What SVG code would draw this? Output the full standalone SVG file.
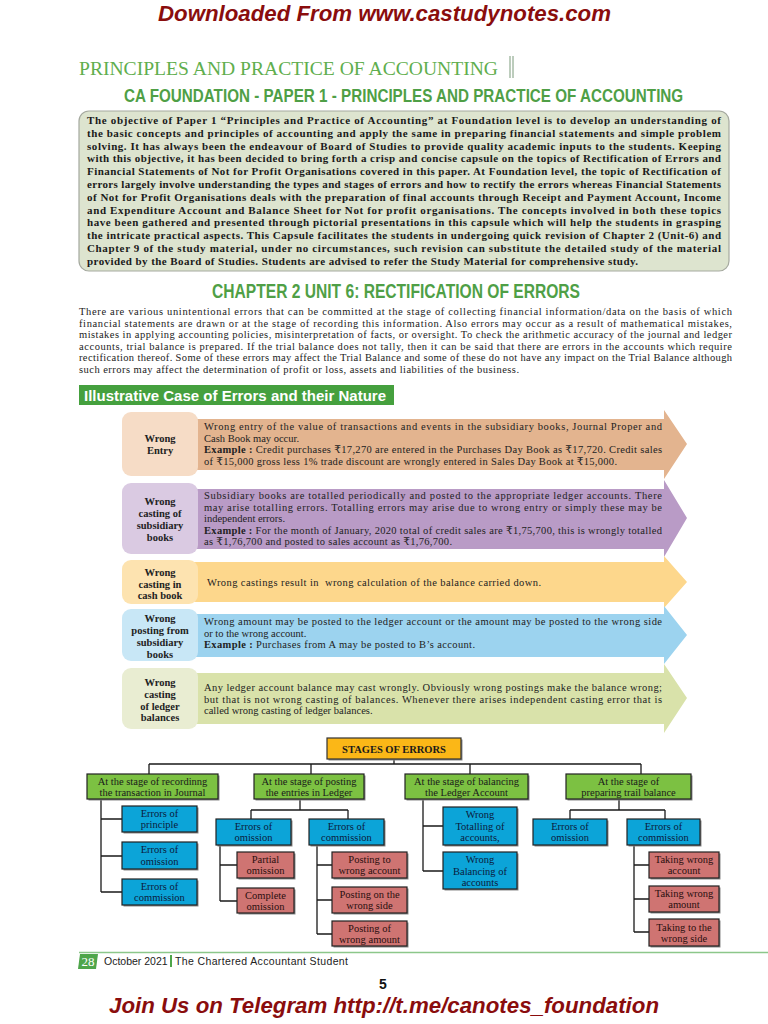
<svg xmlns="http://www.w3.org/2000/svg" width="768" height="1024" viewBox="0 0 768 1024">
<style>
.wm{font-family:"Liberation Sans",Arial,sans-serif;font-weight:bold;font-style:italic;font-size:22px;fill:#8a0d0d}
.hd{font-family:"Liberation Sans Narrow","Liberation Sans",Arial,sans-serif;font-weight:bold;fill:#4f9f46}
.intro{font-family:"Liberation Serif","DejaVu Serif",serif;font-weight:bold;font-size:11px;fill:#1a1a1a}
.para{font-family:"Liberation Serif","DejaVu Serif",serif;font-size:10.5px;fill:#222}
.rt{font-family:"Liberation Serif","DejaVu Serif",serif;font-size:10.5px;fill:#222}
.lb{font-family:"Liberation Serif","DejaVu Serif",serif;font-weight:bold;font-size:10.5px;fill:#222;text-anchor:middle}
.b{font-weight:bold}
.tt{font-family:"Liberation Serif","DejaVu Serif",serif;font-size:10.5px;text-anchor:middle}
.g{fill:#7cc142;stroke:#222;stroke-width:1.2}
.bl{fill:#0ca4d8;stroke:#222;stroke-width:1.2}
.rd{fill:#cf7472;stroke:#222;stroke-width:1.2}
.sh{fill:#8a8a8a}
.gt{fill:#1a1a1a}
.bt{fill:#0b1a3c}
.rdt{fill:#2a0f0f}
.cn{fill:none;stroke:#1a1a1a;stroke-width:1.3}
</style>

<!-- header -->
<text class="wm" x="158" y="21" textLength="453" lengthAdjust="spacingAndGlyphs">Downloaded From www.castudynotes.com</text>
<text x="79" y="75" font-family="Liberation Serif, serif" font-size="19" fill="#5fae4e" textLength="419" lengthAdjust="spacingAndGlyphs">PRINCIPLES AND PRACTICE OF ACCOUNTING</text>
<line x1="510" y1="56" x2="510" y2="78" stroke="#7a9a7a" stroke-width="1"/>
<line x1="513" y1="56" x2="513" y2="78" stroke="#7a9a7a" stroke-width="1"/>
<text class="hd" transform="translate(124,102) scale(0.8,1)" x="0" y="0" font-size="18.5" textLength="699" lengthAdjust="spacingAndGlyphs">CA FOUNDATION - PAPER 1 - PRINCIPLES AND PRACTICE OF ACCOUNTING</text>

<!-- intro box -->
<rect x="79" y="111" width="650" height="160" rx="10" fill="#dde4cf" stroke="#a5a99f" stroke-width="1.2"/>
<g class="intro">
<text x="87" y="124" textLength="634">The objective of Paper 1 “Principles and Practice of Accounting” at Foundation level is to develop an understanding of</text>
<text x="87" y="136.8" textLength="634">the basic concepts and principles of accounting and apply the same in preparing financial statements and simple problem</text>
<text x="87" y="149.6" textLength="634">solving. It has always been the endeavour of Board of Studies to provide quality academic inputs to the students. Keeping</text>
<text x="87" y="162.4" textLength="634">with this objective, it has been decided to bring forth a crisp and concise capsule on the topics of Rectification of Errors and</text>
<text x="87" y="175.2" textLength="634">Financial Statements of Not for Profit Organisations covered in this paper. At Foundation level, the topic of Rectification of</text>
<text x="87" y="188" textLength="634">errors largely involve understanding the types and stages of errors and how to rectify the errors whereas Financial Statements</text>
<text x="87" y="200.8" textLength="634">of Not for Profit Organisations deals with the preparation of final accounts through Receipt and Payment Account, Income</text>
<text x="87" y="213.6" textLength="634">and Expenditure Account and Balance Sheet for Not for profit organisations. The concepts involved in both these topics</text>
<text x="87" y="226.4" textLength="634">have been gathered and presented through pictorial presentations in this capsule which will help the students in grasping</text>
<text x="87" y="239.2" textLength="634">the intricate practical aspects. This Capsule facilitates the students in undergoing quick revision of Chapter 2 (Unit-6) and</text>
<text x="87" y="252" textLength="634">Chapter 9 of the study material, under no circumstances, such revision can substitute the detailed study of the material</text>
<text x="87" y="264.8" textLength="551">provided by the Board of Studies. Students are advised to refer the Study Material for comprehensive study.</text>
</g>

<text class="hd" x="212" y="298" font-size="20" textLength="368" lengthAdjust="spacingAndGlyphs">CHAPTER 2 UNIT 6: RECTIFICATION OF ERRORS</text>

<g class="para">
<text x="79" y="315" textLength="653">There are various unintentional errors that can be committed at the stage of collecting financial information/data on the basis of which</text>
<text x="79" y="326.6" textLength="653">financial statements are drawn or at the stage of recording this information. Also errors may occur as a result of mathematical mistakes,</text>
<text x="79" y="338.2" textLength="653">mistakes in applying accounting policies, misinterpretation of facts, or oversight. To check the arithmetic accuracy of the journal and ledger</text>
<text x="79" y="349.8" textLength="653">accounts, trial balance is prepared. If the trial balance does not tally, then it can be said that there are errors in the accounts which require</text>
<text x="79" y="361.4" textLength="653">rectification thereof. Some of these errors may affect the Trial Balance and some of these do not have any impact on the Trial Balance although</text>
<text x="79" y="373" textLength="440">such errors may affect the determination of profit or loss, assets and liabilities of the business.</text>
</g>

<rect x="79" y="385" width="315" height="20" fill="#45a03e"/>
<text x="84" y="400.5" font-family="Liberation Sans Narrow, Liberation Sans, sans-serif" font-weight="bold" font-size="15.5" fill="#ffffff" textLength="302" lengthAdjust="spacingAndGlyphs">Illustrative Case of Errors and their Nature</text>

<!-- error rows -->
<g id="row-wrong-entry">
<polygon points="192,419 664,419 664,410 687,444 664,479 664,470 192,470" fill="#e3b48f"/>
<rect x="122" y="412" width="76" height="64" rx="9" fill="#f6dcc6"/>
<text class="lb" x="160" y="442">Wrong</text>
<text class="lb" x="160" y="454">Entry</text>
<text class="rt" x="204" y="430" textLength="458">Wrong entry of the value of transactions and events in the subsidiary books, Journal Proper and</text>
<text class="rt" x="204" y="441.5">Cash Book may occur.</text>
<text class="rt" x="204" y="453" textLength="458"><tspan class="b">Example :</tspan> Credit purchases ₹17,270 are entered in the Purchases Day Book as ₹17,720. Credit sales</text>
<text class="rt" x="204" y="464.5" textLength="413">of ₹15,000 gross less 1% trade discount are wrongly entered in Sales Day Book at ₹15,000.</text>
</g>

<g id="row-wrong-casting-subsidiary">
<polygon points="192,489 664,489 664,480 687,518 664,557 664,549 192,549" fill="#b99bc6"/>
<rect x="122" y="483" width="76" height="71" rx="9" fill="#dacae2"/>
<text class="lb" x="160" y="505">Wrong</text>
<text class="lb" x="160" y="517">casting of</text>
<text class="lb" x="160" y="529">subsidiary</text>
<text class="lb" x="160" y="541">books</text>
<text class="rt" x="204" y="499" textLength="458">Subsidiary books are totalled periodically and posted to the appropriate ledger accounts. There</text>
<text class="rt" x="204" y="510.5" textLength="458">may arise totalling errors. Totalling errors may arise due to wrong entry or simply these may be</text>
<text class="rt" x="204" y="522">independent errors.</text>
<text class="rt" x="204" y="533.5" textLength="458"><tspan class="b">Example :</tspan> For the month of January, 2020 total of credit sales are ₹1,75,700, this is wrongly totalled</text>
<text class="rt" x="204" y="545" textLength="248">as ₹1,76,700 and posted to sales account as ₹1,76,700.</text>
</g>

<g id="row-wrong-casting-cash">
<polygon points="192,562 664,562 664,556 687,582 664,608 664,602 192,602" fill="#fdd78c"/>
<rect x="122" y="560" width="76" height="44" rx="9" fill="#fde3b0"/>
<text class="lb" x="160" y="576">Wrong</text>
<text class="lb" x="160" y="588">casting in</text>
<text class="lb" x="160" y="599">cash book</text>
<text class="rt" x="207" y="586" textLength="334" xml:space="preserve">Wrong castings result in  wrong calculation of the balance carried down.</text>
</g>

<g id="row-wrong-posting">
<polygon points="192,614 664,614 664,606 687,635 664,664 664,657 192,657" fill="#9cd3ef"/>
<rect x="122" y="609" width="76" height="52" rx="9" fill="#c8e7f6"/>
<text class="lb" x="160" y="622">Wrong</text>
<text class="lb" x="160" y="634">posting from</text>
<text class="lb" x="160" y="646">subsidiary</text>
<text class="lb" x="160" y="657.5">books</text>
<text class="rt" x="204" y="625" textLength="458">Wrong amount may be posted to the ledger account or the amount may be posted to the wrong side</text>
<text class="rt" x="204" y="636.5">or to the wrong account.</text>
<text class="rt" x="204" y="648" textLength="271"><tspan class="b">Example :</tspan> Purchases from A may be posted to B’s account.</text>
</g>

<g id="row-wrong-casting-ledger">
<polygon points="192,673 664,673 664,664 687,698 664,733 664,724 192,724" fill="#d9e2aa"/>
<rect x="122" y="668" width="76" height="61" rx="9" fill="#e9edd2"/>
<text class="lb" x="160" y="686">Wrong</text>
<text class="lb" x="160" y="698">casting</text>
<text class="lb" x="160" y="709.5">of ledger</text>
<text class="lb" x="160" y="721">balances</text>
<text class="rt" x="204" y="691" textLength="458">Any ledger account balance may cast wrongly. Obviously wrong postings make the balance wrong;</text>
<text class="rt" x="204" y="702.5" textLength="458">but that is not wrong casting of balances. Whenever there arises independent casting error that is</text>
<text class="rt" x="204" y="714">called wrong casting of ledger balances.</text>
</g>

<!-- connectors -->
<g id="connectors" class="cn">
<path d="M394 759V764M149 764H641M149 764V774M311 764V774M470 764V774M641 764V774"/>
<path d="M101 799V892M101 819H122M101 856H122M101 892H122"/>
<path d="M300 799V810M251 810H348M251 810V819M348 810V819"/>
<path d="M220 845V901M220 865H237M220 901H237"/>
<path d="M317 845V934M317 865H332M317 900H332M317 934H332"/>
<path d="M423 799V871M423 826H443M423 871H443"/>
<path d="M619 799V810M570 810H665M570 810V819M665 810V819"/>
<path d="M634 845V932M634 865H649M634 899H649M634 932H649"/>
</g>

<!-- tree nodes -->
<g id="n-stages">
<rect class="sh" x="328.5" y="739.5" width="134" height="21"/>
<rect x="327" y="738" width="134" height="21" fill="#fbb717" stroke="#333" stroke-width="1.2"/>
<text class="tt b gt" x="394" y="752.5" font-size="10">STAGES OF ERRORS</text>
</g>

<g id="n-journal">
<rect class="sh" x="88.5" y="775.5" width="131" height="25"/>
<rect class="g" x="87" y="774" width="131" height="25"/>
<text class="tt gt" x="152.5" y="785">At the stage of recordinng</text>
<text class="tt gt" x="152.5" y="796">the transaction in Journal</text>
</g>
<g id="n-ledger">
<rect class="sh" x="255.5" y="775.5" width="110" height="25"/>
<rect class="g" x="254" y="774" width="110" height="25"/>
<text class="tt gt" x="309" y="785">At the stage of posting</text>
<text class="tt gt" x="309" y="796">the entries in Ledger</text>
</g>
<g id="n-balancing">
<rect class="sh" x="406.5" y="775.5" width="123" height="25"/>
<rect class="g" x="405" y="774" width="123" height="25"/>
<text class="tt gt" x="466.5" y="785">At the stage of balancing</text>
<text class="tt gt" x="466.5" y="796">the Ledger Account</text>
</g>
<g id="n-trial">
<rect class="sh" x="567.5" y="775.5" width="125" height="25"/>
<rect class="g" x="566" y="774" width="125" height="25"/>
<text class="tt gt" x="628.5" y="785">At the stage of</text>
<text class="tt gt" x="628.5" y="796">preparing trail balance</text>
</g>

<g id="n-j-principle">
<rect class="sh" x="123.5" y="807.5" width="75" height="26"/>
<rect class="bl" x="122" y="806" width="75" height="26"/>
<text class="tt bt" x="159.5" y="817">Errors of</text>
<text class="tt bt" x="159.5" y="828">principle</text>
</g>
<g id="n-j-omission">
<rect class="sh" x="123.5" y="843.5" width="75" height="27"/>
<rect class="bl" x="122" y="842" width="75" height="27"/>
<text class="tt bt" x="159.5" y="853">Errors of</text>
<text class="tt bt" x="159.5" y="864.5">omission</text>
</g>
<g id="n-j-commission">
<rect class="sh" x="123.5" y="880.5" width="75" height="26"/>
<rect class="bl" x="122" y="879" width="75" height="26"/>
<text class="tt bt" x="159.5" y="890">Errors of</text>
<text class="tt bt" x="159.5" y="901">commission</text>
</g>

<g id="n-l-omission">
<rect class="sh" x="217.5" y="820.5" width="75" height="26"/>
<rect class="bl" x="216" y="819" width="75" height="26"/>
<text class="tt bt" x="253.5" y="830">Errors of</text>
<text class="tt bt" x="253.5" y="841">omission</text>
</g>
<g id="n-l-commission">
<rect class="sh" x="310.5" y="820.5" width="75" height="26"/>
<rect class="bl" x="309" y="819" width="75" height="26"/>
<text class="tt bt" x="346.5" y="830">Errors of</text>
<text class="tt bt" x="346.5" y="841">commission</text>
</g>

<g id="n-partial">
<rect class="sh" x="238.5" y="853.5" width="57" height="26"/>
<rect class="rd" x="237" y="852" width="57" height="26"/>
<text class="tt rdt" x="265.5" y="863">Partial</text>
<text class="tt rdt" x="265.5" y="874">omission</text>
</g>
<g id="n-complete">
<rect class="sh" x="238.5" y="889.5" width="57" height="25"/>
<rect class="rd" x="237" y="888" width="57" height="25"/>
<text class="tt rdt" x="265.5" y="899">Complete</text>
<text class="tt rdt" x="265.5" y="910">omission</text>
</g>

<g id="n-post-account">
<rect class="sh" x="333.5" y="853.5" width="75" height="26"/>
<rect class="rd" x="332" y="852" width="75" height="26"/>
<text class="tt rdt" x="369.5" y="863">Posting to</text>
<text class="tt rdt" x="369.5" y="874">wrong account</text>
</g>
<g id="n-post-side">
<rect class="sh" x="333.5" y="888.5" width="75" height="26"/>
<rect class="rd" x="332" y="887" width="75" height="26"/>
<text class="tt rdt" x="369.5" y="898">Posting on the</text>
<text class="tt rdt" x="369.5" y="909">wrong side</text>
</g>
<g id="n-post-amount">
<rect class="sh" x="333.5" y="922.5" width="75" height="25"/>
<rect class="rd" x="332" y="921" width="75" height="25"/>
<text class="tt rdt" x="369.5" y="932">Posting of</text>
<text class="tt rdt" x="369.5" y="943">wrong amount</text>
</g>

<g id="n-totalling">
<rect class="sh" x="444.5" y="808.5" width="74" height="38"/>
<rect class="bl" x="443" y="807" width="74" height="38"/>
<text class="tt bt" x="480" y="818">Wrong</text>
<text class="tt bt" x="480" y="829.5">Totalling of</text>
<text class="tt bt" x="480" y="841">accounts,</text>
</g>
<g id="n-balancing-acc">
<rect class="sh" x="444.5" y="853.5" width="74" height="37"/>
<rect class="bl" x="443" y="852" width="74" height="37"/>
<text class="tt bt" x="480" y="863">Wrong</text>
<text class="tt bt" x="480" y="874.5">Balancing of</text>
<text class="tt bt" x="480" y="886">accounts</text>
</g>

<g id="n-t-omission">
<rect class="sh" x="534.5" y="820.5" width="74" height="26"/>
<rect class="bl" x="533" y="819" width="74" height="26"/>
<text class="tt bt" x="570" y="830">Errors of</text>
<text class="tt bt" x="570" y="841">omission</text>
</g>
<g id="n-t-commission">
<rect class="sh" x="628.5" y="820.5" width="73" height="26"/>
<rect class="bl" x="627" y="819" width="73" height="26"/>
<text class="tt bt" x="663.5" y="830">Errors of</text>
<text class="tt bt" x="663.5" y="841">commission</text>
</g>

<g id="n-take-account">
<rect class="sh" x="650.5" y="853.5" width="70" height="26"/>
<rect class="rd" x="649" y="852" width="70" height="26"/>
<text class="tt rdt" x="684" y="863">Taking wrong</text>
<text class="tt rdt" x="684" y="874">account</text>
</g>
<g id="n-take-amount">
<rect class="sh" x="650.5" y="887.5" width="70" height="26"/>
<rect class="rd" x="649" y="886" width="70" height="26"/>
<text class="tt rdt" x="684" y="897">Taking wrong</text>
<text class="tt rdt" x="684" y="908">amount</text>
</g>
<g id="n-take-side">
<rect class="sh" x="650.5" y="920.5" width="70" height="27"/>
<rect class="rd" x="649" y="919" width="70" height="27"/>
<text class="tt rdt" x="684" y="930.5">Taking to the</text>
<text class="tt rdt" x="684" y="942">wrong side</text>
</g>

<!-- footer -->
<line x1="79" y1="952.5" x2="768" y2="952.5" stroke="#8cc78a" stroke-width="1.5"/>
<polygon points="80,954 98,954 96,969 78,969" fill="#4ea54a"/>
<text x="88" y="966" font-family="Liberation Serif, serif" font-size="13" fill="#ffffff" text-anchor="middle">28</text>
<text x="104" y="965" font-family="Liberation Sans, Arial, sans-serif" font-size="10.5" fill="#222">October 2021</text>
<rect x="170" y="955" width="2" height="12" fill="#4ea54a"/>
<text x="175" y="965" font-family="Liberation Sans, Arial, sans-serif" font-size="10.5" fill="#222" textLength="173">The Chartered Accountant Student</text>
<text x="383" y="989" font-family="Liberation Sans, Arial, sans-serif" font-weight="bold" font-size="14" fill="#111" text-anchor="middle">5</text>
<text class="wm" x="109" y="1013" textLength="550" lengthAdjust="spacingAndGlyphs">Join Us on Telegram http://t.me/canotes_foundation</text>
</svg>
